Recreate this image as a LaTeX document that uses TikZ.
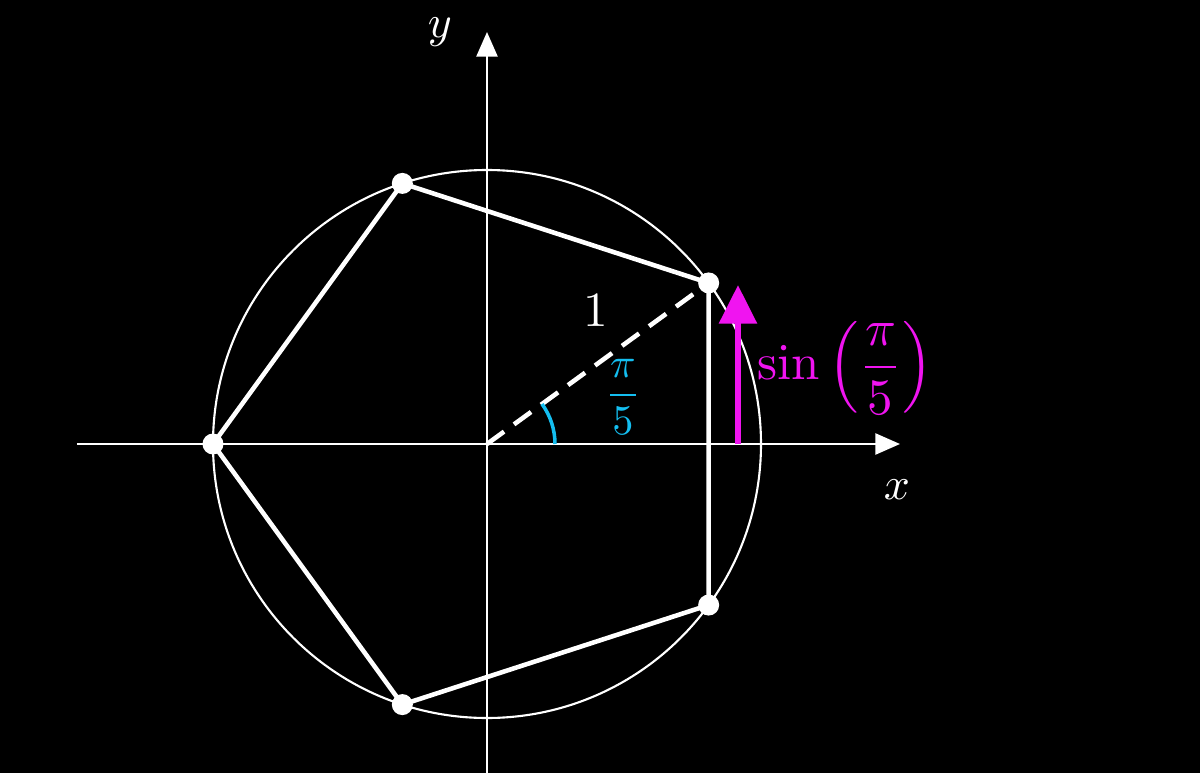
\documentclass[tikz,border=0pt]{standalone}
\usepackage{amsmath}
\usetikzlibrary{arrows.meta}
\definecolor{mag}{RGB}{240,20,240}
\definecolor{cy}{RGB}{20,190,240}
\begin{document}
\begin{tikzpicture}
\tikzset{axis/.style={white,line width=0.6pt,-{Triangle[length=7pt,width=6pt]}},
 poly/.style={white,line width=1.3pt},
 dot/.style={circle,fill=white,inner sep=0pt,minimum size=2.1mm}}
\fill[black] (-4.87,-3.29) rectangle (7.13,4.44);
\useasboundingbox (-4.87,-3.29) rectangle (7.13,4.44);
\coordinate (O) at (0,0);
\coordinate (xs) at (-4.10,0); \coordinate (xe) at (4.13,0);
\coordinate (ys) at (0,-3.29); \coordinate (ye) at (0,4.12);
\draw[axis] (xs) -- (xe);
\draw[axis] (ys) -- (ye);
\node[white,scale=1.3] (xl) at (4.10,-0.46) {$x$};
\node[white,scale=1.3] (yl) at (-0.47,4.12) {$y$};
\draw[white,line width=0.6pt] (O) circle (2.74);
\foreach \i/\a in {1/36,2/108,3/180,4/252,5/324} \coordinate (v\i) at (\a:2.74);
\draw[poly] (v1)--(v2)--(v3)--(v4)--(v5)--cycle;
\draw[white,line width=1.3pt,dash pattern=on 6pt off 3.5pt] (O) -- (v1);
\draw[cy,line width=1pt] (0.68,0) arc (0:36:0.68);
\foreach \i in {1,...,5} \node[dot] (d\i) at (v\i) {};
\coordinate (ab) at (2.51,0); \coordinate (at) at (2.51,1.59);
\draw[mag,line width=1.8pt,-{Triangle[length=11pt,width=10.5pt]}] (ab) -- (at);
\node[white,scale=1.4] (one) at (1.09,1.33) {$1$};
\node[cy,scale=1.2] (pl) at (1.36,0.47) {$\dfrac{\pi}{5}$};
\node[mag,scale=1.45] (sl) at (3.58,0.76) {$\sin\left(\dfrac{\pi}{5}\right)$};
\end{tikzpicture}
\end{document}
